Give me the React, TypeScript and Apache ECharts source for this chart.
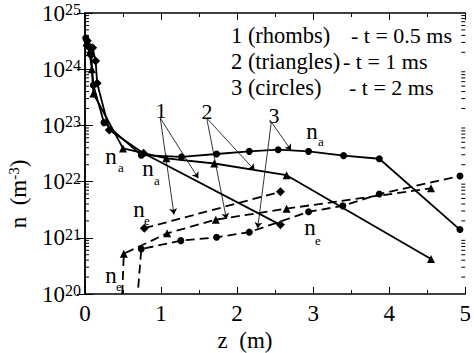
import React, { useEffect, useRef } from "react";
import * as echarts from "echarts";

// z (m), n (m^-3)
const naRhombs: [number, number][] = [
  [0.03, 3.2e24], [0.1, 2.4e24], [0.14, 1.4e24], [0.16, 5.6e23], [0.32, 8.3e22], [0.77, 3.2e22], [2.57, 1.7e21],
];
const naTriangles: [number, number][] = [
  [0.02, 3.0e24], [0.06, 2.0e24], [0.09, 1.0e24], [0.11, 3.7e23], [0.5, 3.9e22], [1.07, 2.6e22], [1.7, 2.1e22], [2.65, 1.3e22], [4.55, 4.2e20],
];
const naCircles: [number, number][] = [
  [0.01, 3.6e24], [0.05, 2.5e24], [0.08, 1.8e24], [0.11, 5.2e23], [0.25, 1.12e23], [0.74, 2.95e22], [1.27, 2.75e22], [1.73, 3.1e22],
  [2.16, 3.45e22], [2.54, 3.7e22], [2.94, 3.45e22], [3.4, 2.9e22], [3.87, 2.55e22], [4.93, 1.4e21],
];
const neRhombs: [number, number][] = [
  [0.78, 1.48e21], [2.57, 6.6e21],
];
const neTriangles: [number, number][] = [
  [0.49, 1.0e20], [0.51, 5.2e20], [1.08, 1.2e21], [1.72, 2.1e21], [2.65, 3.3e21], [4.55, 7.6e21],
];
const neCircles: [number, number][] = [
  [0.7, 1.3e20], [0.74, 6.3e20], [1.26, 8.9e20], [1.73, 1.02e21], [2.16, 1.26e21], [2.94, 2.9e21], [3.39, 3.7e21], [3.87, 6.0e21], [4.93, 1.26e22],
];

// annotation pointers: label anchor -> curve
const pointers: [[number, number], [number, number]][] = [
  [[0.99, 1.35e23], [1.49, 1.15e22]],
  [[0.99, 1.35e23], [1.17, 2.6e21]],
  [[1.6, 1.35e23], [2.23, 1.6e22]],
  [[1.6, 1.35e23], [1.86, 2.15e21]],
  [[2.45, 1.15e23], [2.71, 3.6e22]],
  [[2.45, 1.15e23], [2.27, 1.48e21]],
];

const legendLeft = ["1 (rhombs)", "2 (triangles)", "3 (circles)"];
const legendRight = ["- t = 0.5 ms", "- t = 1 ms", "- t = 2 ms"];

const xTicks = [0, 1, 2, 3, 4, 5];
const yDecades = [20, 21, 22, 23, 24, 25];
const minorMultipliers = [2, 3, 4, 5, 6, 7, 8, 9];

const FONT = "Liberation Serif";

export default function App() {
  const ref = useRef<HTMLDivElement>(null);
  useEffect(() => {
    if (!ref.current) return;
    const chart = echarts.init(ref.current, null, { renderer: "svg" });

    const minorData: [number, number][] = [];
    yDecades.slice(0, -1).forEach((d) => minorMultipliers.forEach((m) => minorData.push([0, m * Math.pow(10, d)])));

    const firstNoSym = (arr: [number, number][]) =>
      arr.map((p, i) => (i === 0 ? { value: p, symbol: "none" } : { value: p }));

    const solid = (data: any, symbol: string, size: number) => ({
      type: "line",
      data,
      symbol,
      symbolSize: size,
      showSymbol: true,
      lineStyle: { color: "#000", width: 1.8 },
      itemStyle: { color: "#000" },
      silent: true,
      z: 3,
    });
    const dashed = (data: any, symbol: string, size: number) => ({
      type: "line",
      data,
      symbol,
      symbolSize: size,
      lineStyle: { color: "#000", width: 1.8, type: [9, 5] },
      itemStyle: { color: "#000" },
      silent: true,
      z: 3,
    });

    const axisCommon = {
      axisLine: { show: true, lineStyle: { color: "#000", width: 1.5 } },
      splitLine: { show: false },
    };

    const txt = (x: number, y: number, text: string, size: number) => ({
      type: "text",
      x,
      y,
      style: { text, fontSize: size, fontFamily: FONT, fill: "#000", align: "center", verticalAlign: "middle" },
    });
    const ltxt = (x: number, y: number, text: string, size: number) => ({
      type: "text",
      x,
      y,
      style: { text, fontSize: size, fontFamily: FONT, fill: "#000", align: "left", verticalAlign: "middle" },
    });

    const rightX = [351, 343, 349];

    chart.setOption({
      animation: false,
      textStyle: { fontFamily: FONT },
      grid: { left: 85, right: 4, top: 13, bottom: 59 },
      xAxis: [
        {
          type: "value",
          min: 0,
          max: 5,
          interval: 1,
          position: "bottom",
          ...axisCommon,
          axisTick: { show: true, inside: true, length: 7, lineStyle: { color: "#000", width: 1 } },
          minorTick: { show: true, splitNumber: 2, length: 4, lineStyle: { color: "#000", width: 1 } },
          axisLabel: {
            margin: 8,
            fontSize: 23,
            fontFamily: FONT,
            color: "#000",
            formatter: (v: number) => (xTicks.includes(v) ? String(v) : ""),
          },
        },
        {
          type: "value",
          min: 0,
          max: 5,
          interval: 1,
          position: "top",
          ...axisCommon,
          axisTick: { show: true, inside: true, length: 7, lineStyle: { color: "#000", width: 1 } },
          minorTick: { show: true, splitNumber: 2, length: 4, lineStyle: { color: "#000", width: 1 } },
          axisLabel: { show: false },
        },
      ],
      yAxis: [
        {
          type: "log",
          logBase: 10,
          min: 1e20,
          max: 1e25,
          position: "left",
          ...axisCommon,
          axisTick: { show: true, inside: true, length: 8, lineStyle: { color: "#000", width: 1 } },
          axisLabel: {
            margin: 4,
            fontFamily: FONT,
            color: "#000",
            formatter: (v: number) => `{b|10}{s|${Math.round(Math.log10(v))}}`,
            rich: {
              b: { fontSize: 23, fontFamily: FONT, color: "#000", lineHeight: 23 },
              s: { fontSize: 16, fontFamily: FONT, color: "#000", verticalAlign: "top", lineHeight: 23, padding: [0, 0, 10, 0] },
            },
          },
        },
        {
          type: "log",
          logBase: 10,
          min: 1e20,
          max: 1e25,
          position: "right",
          ...axisCommon,
          axisTick: { show: true, inside: true, length: 8, lineStyle: { color: "#000", width: 1 } },
          axisLabel: { show: false },
        },
      ],
      series: [
        {
          type: "custom",
          silent: true,
          data: minorData,
          encode: { x: 0, y: 1 },
          renderItem: (params: any, api: any) => {
            const v = api.value(1);
            const p = api.coord([0, v]);
            const q = api.coord([5, v]);
            return {
              type: "group",
              children: [
                { type: "line", shape: { x1: p[0], y1: p[1], x2: p[0] + 4, y2: p[1] }, style: { stroke: "#000", lineWidth: 1 } },
                { type: "line", shape: { x1: q[0], y1: q[1], x2: q[0] - 4, y2: q[1] }, style: { stroke: "#000", lineWidth: 1 } },
              ],
            };
          },
        },
        solid(naRhombs, "diamond", 9),
        solid(naTriangles, "triangle", 8),
        solid(naCircles, "circle", 7),
        dashed(neRhombs, "diamond", 9),
        dashed(firstNoSym(neTriangles), "triangle", 8),
        dashed(firstNoSym(neCircles), "circle", 7),
        {
          type: "line",
          data: [],
          silent: true,
          markLine: {
            silent: true,
            symbol: ["none", "arrow"],
            symbolSize: 6,
            label: { show: false },
            lineStyle: { color: "#000", width: 0.8, type: "solid" },
            data: pointers.map(([a, b]) => [{ coord: a }, { coord: b }]),
          },
        },
      ],
      graphic: [
        ...legendLeft.map((t, i) => ltxt(231, 35 + i * 26, t, 22.5)),
        ...legendRight.map((t, i) => ltxt(rightX[i], 35 + i * 26, t, 22)),
        txt(161, 110, "1", 22),
        txt(207, 111, "2", 22),
        txt(274, 115, "3", 22),
        txt(312, 131, "n", 23),
        txt(321, 141, "a", 13),
        txt(111, 156, "n", 23),
        txt(121, 167, "a", 13),
        txt(148, 168, "n", 23),
        txt(157, 180, "a", 13),
        txt(139, 209, "n", 23),
        txt(147, 220, "e", 13),
        txt(111, 275, "n", 23),
        txt(119, 286, "e", 13),
        txt(310, 227, "n", 23),
        txt(318, 240, "e", 13),
        txt(245, 340, "z  (m)", 23),
        {
          type: "text",
          x: 18,
          y: 194,
          rotation: Math.PI / 2,
          style: {
            text: "{b|n  (m}{s|-3}{b|)}",
            fontFamily: FONT,
            fill: "#000",
            align: "center",
            verticalAlign: "middle",
            rich: {
              b: { fontSize: 23, fontFamily: FONT, fill: "#000", lineHeight: 24 },
              s: { fontSize: 15, fontFamily: FONT, fill: "#000", verticalAlign: "top", lineHeight: 24, padding: [0, 0, 10, 0] },
            },
          },
        },
      ],
    });
    return () => chart.dispose();
  }, []);
  return <div ref={ref} style={{ position: "absolute", left: 0, top: 0, width: 474, height: 353 }} />;
}
